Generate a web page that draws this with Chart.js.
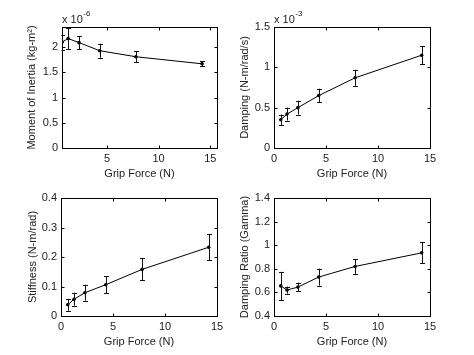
<!DOCTYPE html>
<html>
<head>
<meta charset="utf-8">
<script src="https://cdn.jsdelivr.net/npm/chart.js@4/dist/chart.umd.min.js"></script>
<style>
  html, body { margin: 0; padding: 0; background: #fff; }
  #wrap { position: relative; width: 474px; height: 355px; overflow: hidden; }
  #wrap canvas { position: absolute; left: 0; top: 0; }
</style>
</head>
<body>
<div id="wrap">
  <canvas id="c1" width="474" height="355"></canvas>
  <canvas id="c2" width="474" height="355"></canvas>
  <canvas id="c3" width="474" height="355"></canvas>
  <canvas id="c4" width="474" height="355"></canvas>
</div>
<script>
// ---- data ----
const gripForce = [0.65, 1.25, 2.3, 4.3, 7.8, 14.2];           // N
const inertia = [2.10, 2.17, 2.09, 1.93, 1.81, 1.67];            // x 10^-6 kg-m^2
const inertiaErr = [0.15, 0.21, 0.13, 0.14, 0.11, 0.05];
const damping = [0.35, 0.42, 0.50, 0.65, 0.87, 1.15];            // x 10^-3 N-m/rad/s
const dampingErr = [0.065, 0.08, 0.085, 0.085, 0.10, 0.11];
const stiffness = [0.038, 0.057, 0.079, 0.106, 0.158, 0.233];    // N-m/rad
const stiffnessErr = [0.020, 0.022, 0.027, 0.028, 0.037, 0.044];
const dampRatio = [0.655, 0.62, 0.645, 0.73, 0.82, 0.935];       // Gamma
const dampRatioErr = [0.12, 0.03, 0.037, 0.072, 0.063, 0.09];

const xTicksA = [5, 10, 15];
const xTicksB = [0, 5, 10, 15];
const yTicksInertia = [0, 0.5, 1, 1.5, 2];
const yTicksDamping = [0, 0.5, 1, 1.5];
const yTicksStiffness = [0, 0.1, 0.2, 0.3, 0.4];
const yTicksRatio = [0.4, 0.6, 0.8, 1, 1.2, 1.4];

const xTitle = 'Grip Force (N)';
const FONT = "'Liberation Sans', Arial, Helvetica, sans-serif";
const TXT = '#222';
const W = 474, H = 355;

// ---- plugins ----
const framePlugin = {
  id: 'frame',
  afterDraw(chart, args, opts) {
    const ctx = chart.ctx, a = chart.chartArea;
    const xs = chart.scales.x, ys = chart.scales.y;
    const L = Math.round(a.left) + 0.5, R = Math.round(a.right) + 0.5;
    const T = Math.round(a.top) + 0.5, B = Math.round(a.bottom) + 0.5;
    ctx.save();
    ctx.strokeStyle = '#000';
    ctx.lineWidth = 1;
    ctx.strokeRect(L, T, R - L, B - T);
    const tl = 3;
    ctx.beginPath();
    xs.ticks.forEach(t => {
      const px = Math.round(xs.getPixelForValue(t.value)) + 0.5;
      ctx.moveTo(px, B); ctx.lineTo(px, B - tl);
      ctx.moveTo(px, T); ctx.lineTo(px, T + tl);
    });
    ys.ticks.forEach(t => {
      const py = Math.round(ys.getPixelForValue(t.value)) + 0.5;
      ctx.moveTo(L, py); ctx.lineTo(L + tl, py);
      ctx.moveTo(R, py); ctx.lineTo(R - tl, py);
    });
    ctx.stroke();
    // exponent label
    if (opts && opts.exp) {
      ctx.fillStyle = TXT;
      ctx.textBaseline = 'alphabetic';
      ctx.textAlign = 'left';
      ctx.font = '11px ' + FONT;
      const base = 'x 10';
      ctx.fillText(base, a.left, a.top - 4);
      const w = ctx.measureText(base).width;
      ctx.font = '8px ' + FONT;
      ctx.fillText(opts.exp, a.left + w + 0.5, a.top - 11);
    }
    ctx.restore();
  }
};

const errorBarPlugin = {
  id: 'errbars',
  afterDatasetsDraw(chart, args, opts) {
    const ctx = chart.ctx, a = chart.chartArea;
    const xs = chart.scales.x, ys = chart.scales.y;
    const vals = opts.values, errs = opts.errors, xv = opts.x;
    ctx.save();
    ctx.beginPath();
    ctx.rect(a.left - 0.5, a.top - 0.5, a.right - a.left + 1, a.bottom - a.top + 1);
    ctx.clip();
    ctx.strokeStyle = '#111';
    ctx.lineWidth = 1;
    ctx.beginPath();
    for (let i = 0; i < vals.length; i++) {
      const px = Math.round(xs.getPixelForValue(xv[i])) + 0.5;
      const y1 = ys.getPixelForValue(vals[i] + errs[i]);
      const y2 = ys.getPixelForValue(vals[i] - errs[i]);
      ctx.moveTo(px, y1); ctx.lineTo(px, y2);
      ctx.moveTo(px - 2.5, Math.round(y1) + 0.5); ctx.lineTo(px + 2.5, Math.round(y1) + 0.5);
      ctx.moveTo(px - 2.5, Math.round(y2) + 0.5); ctx.lineTo(px + 2.5, Math.round(y2) + 0.5);
    }
    ctx.stroke();
    ctx.restore();
  }
};

function fmt(v) { return String(+(+v).toFixed(3)); }

function panel(id, p) {
  const lh = 11 * 1.2;
  const padLeft = p.yTitleX - lh / 2;
  const yWidth = p.L - padLeft;
  const xHeight = p.xTitleY - p.B + lh / 2;
  const padBottom = H - p.B - xHeight;
  new Chart(document.getElementById(id), {
    type: 'line',
    data: {
      datasets: [{
        data: p.x.map((xv, i) => ({ x: xv, y: p.y[i] })),
        borderColor: '#000',
        borderWidth: 1,
        pointRadius: 1.8,
        pointBackgroundColor: '#000',
        pointBorderWidth: 0,
        tension: 0,
        fill: false
      }]
    },
    options: {
      responsive: false,
      animation: false,
      events: [],
      layout: { padding: { left: padLeft, top: p.T, right: W - p.R, bottom: padBottom } },
      plugins: {
        legend: { display: false },
        tooltip: { enabled: false },
        frame: { exp: p.exp },
        errbars: { x: p.x, values: p.y, errors: p.err }
      },
      scales: {
        x: {
          type: 'linear', position: 'bottom',
          min: p.xmin, max: p.xmax,
          grid: { display: false, drawTicks: false },
          border: { display: false },
          afterBuildTicks: s => { s.ticks = p.xticks.map(v => ({ value: v })); },
          afterFit: s => { s.height = xHeight; s.paddingLeft = 0; s.paddingRight = 0; },
          ticks: { color: TXT, font: { family: FONT, size: 11 }, padding: 4, maxRotation: 0, autoSkip: false, callback: fmt },
          title: { display: true, text: xTitle, color: TXT, font: { family: FONT, size: 11 }, padding: { top: 0, bottom: 0 } }
        },
        y: {
          type: 'linear', position: 'left',
          min: p.ymin, max: p.ymax,
          grid: { display: false, drawTicks: false },
          border: { display: false },
          afterBuildTicks: s => { s.ticks = p.yticks.map(v => ({ value: v })); },
          afterFit: s => { s.width = yWidth; },
          ticks: { color: TXT, font: { family: FONT, size: 11 }, padding: 4, autoSkip: false, callback: fmt },
          title: { display: true, text: p.yTitle, color: TXT, font: { family: FONT, size: 11 }, padding: { top: 0, bottom: 0 } }
        }
      }
    },
    plugins: [framePlugin, errorBarPlugin]
  });
}

panel('c1', { L: 62, T: 27, R: 217, B: 148, yTitleX: 32, xTitleY: 174,
  xmin: 0.65, xmax: 15.65, ymin: 0, ymax: 2.4, xticks: xTicksA, yticks: yTicksInertia,
  x: gripForce, y: inertia, err: inertiaErr, yTitle: 'Moment of Inertia (kg-m²)', exp: '-6' });
panel('c2', { L: 274, T: 27, R: 430, B: 148, yTitleX: 244.5, xTitleY: 174,
  xmin: 0, xmax: 15, ymin: 0, ymax: 1.5, xticks: xTicksB, yticks: yTicksDamping,
  x: gripForce, y: damping, err: dampingErr, yTitle: 'Damping (N-m/rad/s)', exp: '-3' });
panel('c3', { L: 61, T: 198, R: 217, B: 316, yTitleX: 32.5, xTitleY: 341.5,
  xmin: 0, xmax: 15, ymin: 0, ymax: 0.4, xticks: xTicksB, yticks: yTicksStiffness,
  x: gripForce, y: stiffness, err: stiffnessErr, yTitle: 'Stiffness (N-m/rad)' });
panel('c4', { L: 274, T: 198, R: 430, B: 316, yTitleX: 244.5, xTitleY: 341.5,
  xmin: 0, xmax: 15, ymin: 0.4, ymax: 1.4, xticks: xTicksB, yticks: yTicksRatio,
  x: gripForce, y: dampRatio, err: dampRatioErr, yTitle: 'Damping Ratio (Gamma)' });
</script>
</body>
</html>
